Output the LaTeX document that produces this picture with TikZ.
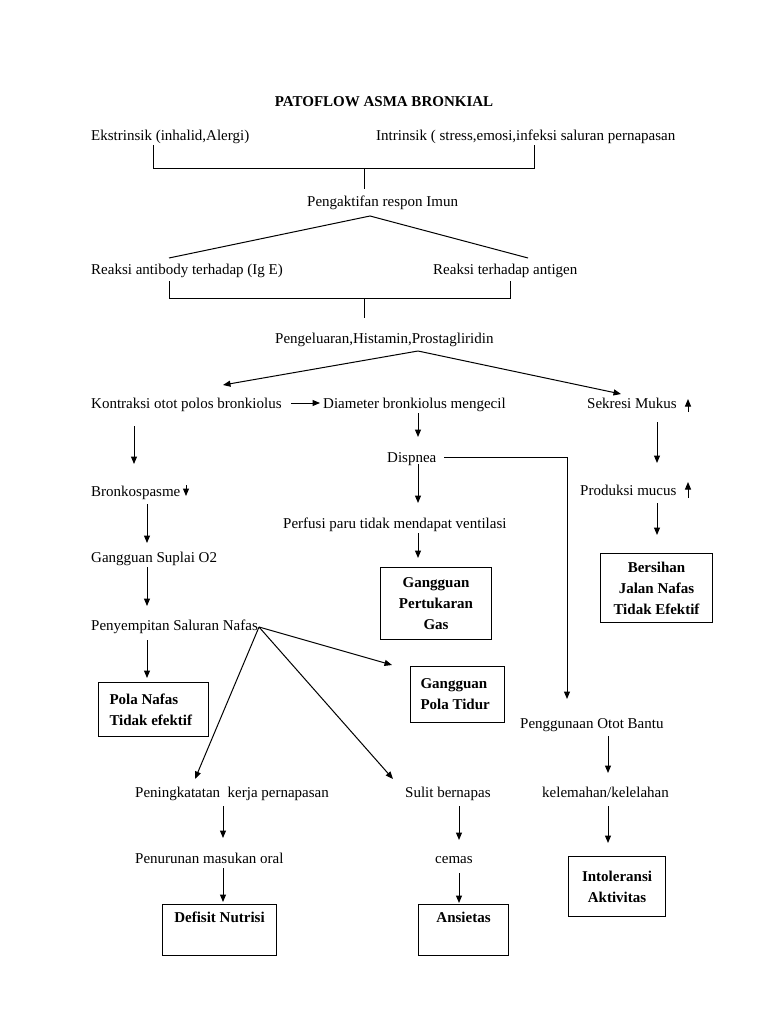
\documentclass[tikz,border=0pt]{standalone}
\usepackage{fontspec}
\setmainfont{Liberation Serif}
\usetikzlibrary{arrows.meta,calc}
\begin{document}
\begin{tikzpicture}[x=1pt,y=-1pt,font=\fontsize{15}{18}\selectfont,
  txt/.style={inner sep=0pt, anchor=base west},
  arr/.style={-{Triangle[length=7.5pt,width=6pt]}, line width=1pt},
  ln/.style={line width=1pt},
  box/.style={draw, line width=1pt, inner sep=0pt, anchor=north west, align=center,
    font=\bfseries\fontsize{15}{21}\selectfont}]
\fill[white] (0,0) rectangle (768,1024);
\useasboundingbox (0,0) rectangle (768,1024);

% text nodes
\node[inner sep=0pt, anchor=base, font=\bfseries\fontsize{15}{18}\selectfont] (title) at (384,107) {PATOFLOW ASMA BRONKIAL};
\node[txt] (eks) at (91,141) {Ekstrinsik (inhalid,Alergi)};
\node[txt] (intr) at (376,141) {Intrinsik ( stress,emosi,infeksi saluran pernapasan};
\node[txt] (peng) at (307,207) {Pengaktifan respon Imun};
\node[txt] (reA) at (91,274) {Reaksi antibody terhadap (Ig E)};
\node[txt] (reB) at (433,274) {Reaksi terhadap antigen};
\node[txt] (hist) at (275,343) {Pengeluaran,Histamin,Prostagliridin};
\node[txt] (kon) at (91,408) {Kontraksi otot polos bronkiolus};
\node[txt] (dia) at (323,408) {Diameter bronkiolus mengecil};
\node[txt] (sek) at (587,408) {Sekresi Mukus};
\node[txt] (disp) at (387,462) {Dispnea};
\node[txt] (bro) at (91,496) {Bronkospasme};
\node[txt] (prod) at (580,495) {Produksi mucus};
\node[txt] (perf) at (283,528) {Perfusi paru tidak mendapat ventilasi};
\node[txt] (sup) at (91,562) {Gangguan Suplai O2};
\node[txt] (peny) at (91,630) {Penyempitan Saluran Nafas};
\node[txt] (pot) at (520,728) {Penggunaan Otot Bantu};
\node[txt] (pen) at (135,797) {Peningkatatan\ \ kerja pernapasan};
\node[txt] (sul) at (405,797) {Sulit bernapas};
\node[txt] (kel) at (542,797) {kelemahan/kelelahan};
\node[txt] (pnr) at (135,863) {Penurunan masukan oral};
\node[txt] (cem) at (435,863) {cemas};

% boxes
\node[box, minimum width=111pt, minimum height=72pt] (gpg) at (380,567) {Gangguan\\Pertukaran\\Gas};
\node[box, minimum width=112pt, minimum height=69pt] (bjn) at (600,553) {Bersihan\\Jalan Nafas\\Tidak Efektif};
\node[box, align=flush left, text width=88pt, inner xsep=11pt, minimum height=54pt] (pnt) at (98,682) {Pola Nafas\\Tidak efektif};
\node[box, align=flush left, text width=74pt, inner xsep=10pt, minimum height=56pt] (gpt) at (410,666) {Gangguan\\Pola Tidur};
\node[box, minimum width=97pt, minimum height=60pt] (int) at (568,856) {Intoleransi\\Aktivitas};
\node[box, minimum width=114pt, text height=18pt, text depth=33pt] (def) at (162,904) {Defisit Nutrisi};
\node[box, minimum width=90pt, text height=18pt, text depth=33pt] (ans) at (418,904) {Ansietas};

% brackets and fans
\draw[ln] ($(eks.base west)+(62,4)$) -- ++(0,24) -| ($(intr.base west)+(158,4)$);
\draw[ln] ($(peng.base west)+(57,-38)$) -- ($(peng.base west)+(57,-18)$);
\draw[ln] ($(reA.base west)+(78,-16)$) -- ($(peng.base west)+(63,9)$) -- ($(reB.base west)+(95,-16)$);
\draw[ln] ($(reA.base west)+(78,7)$) -- ++(0,17) -| ($(reB.base west)+(77,7)$);
\draw[ln] ($(hist.base west)+(89,-45)$) -- ($(hist.base west)+(89,-25)$);
\draw[arr] ($(hist.base west)+(143,8)$) -- ($(kon.base west)+(132,-23)$);
\draw[arr] ($(hist.base west)+(143,8)$) -- ($(sek.base west)+(34,-14)$);

% left column
\draw[arr] ($(kon.base west)+(200,-5)$) -- ($(dia.base west)+(-3,-5)$);
\draw[arr] ($(kon.base west)+(43,18)$) -- ($(bro.base west)+(43,-32)$);
\draw[arr] ($(bro.base west)+(95,-11)$) -- ($(bro.base west)+(95,0)$);
\draw[arr] ($(bro.base west)+(56,8)$) -- ($(sup.base west)+(56,-19)$);
\draw[arr] ($(sup.base west)+(56,5)$) -- ($(sup.base west)+(56,44)$);
\draw[arr] ($(peny.base west)+(56,10)$) -- ($(pnt.north west)+(49,-4)$);
\draw[arr] ($(peny.base west)+(168,-3)$) -- ($(gpt.north west)+(-18,-1)$);
\draw[arr] ($(peny.base west)+(168,-3)$) -- ($(pen.base west)+(60,-18)$);
\draw[arr] ($(peny.base west)+(168,-3)$) -- ($(sul.base west)+(-12,-18)$);

% middle column
\draw[arr] ($(dia.base west)+(95,5)$) -- ($(disp.base west)+(31,-25)$);
\draw[arr] ($(disp.base west)+(31,2)$) -- ($(perf.base west)+(135,-25)$);
\draw[arr] ($(perf.base west)+(135,5)$) -- ($(gpg.north west)+(38,-9)$);
\draw[arr] ($(disp.base west)+(57,-5)$) -| ($(pot.base west)+(47,-29)$);

% right column
\draw[arr] ($(sek.base west)+(101,4)$) -- ($(sek.base west)+(101,-9)$);
\draw[arr] ($(sek.base west)+(70,14)$) -- ($(prod.base west)+(77,-32)$);
\draw[arr] ($(prod.base west)+(108,3)$) -- ($(prod.base west)+(108,-13)$);
\draw[arr] ($(prod.base west)+(77,8)$) -- ($(bjn.north west)+(57,-18)$);
\draw[arr] ($(pot.base west)+(88,8)$) -- ($(kel.base west)+(66,-24)$);
\draw[arr] ($(kel.base west)+(66,9)$) -- ($(int.north west)+(40,-13)$);

% bottom
\draw[arr] ($(pen.base west)+(88,9)$) -- ($(pnr.base west)+(88,-25)$);
\draw[arr] ($(pnr.base west)+(88,5)$) -- ($(def.north west)+(61,-2)$);
\draw[arr] ($(sul.base west)+(54,9)$) -- ($(cem.base west)+(24,-23)$);
\draw[arr] ($(cem.base west)+(24,10)$) -- ($(ans.north west)+(41,-1)$);
\end{tikzpicture}
\end{document}
